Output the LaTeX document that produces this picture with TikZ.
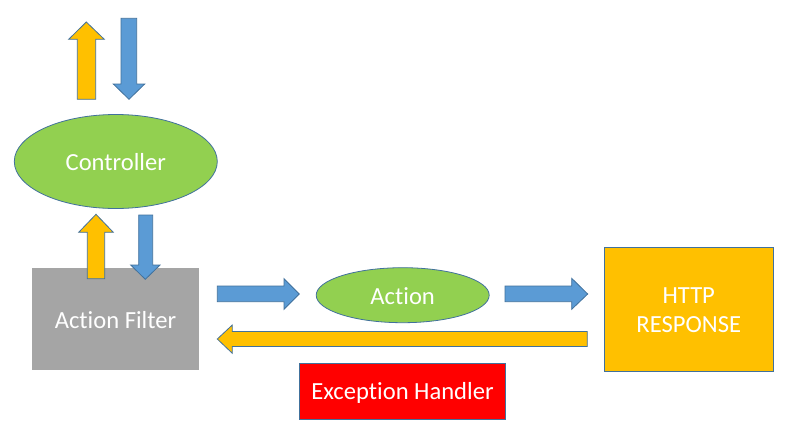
\documentclass[tikz,border=0pt]{standalone}
\usepackage{fontspec}
\setmainfont{Carlito}[Ligatures=NoCommon]
\usetikzlibrary{shapes.geometric}
\definecolor{orng}{HTML}{FFC000}
\definecolor{blu}{HTML}{5B9BD5}
\definecolor{grn}{HTML}{92D050}
\definecolor{gry}{HTML}{A5A5A5}
\definecolor{rd}{HTML}{FF0000}
\definecolor{edge}{HTML}{41719C}
\tikzset{
  lbl/.style={text=white, font=\fontsize{24.6}{29.5}\selectfont, align=center, inner sep=0pt},
  oval/.style={ellipse, fill=grn, draw=edge, line width=0.8pt, inner sep=0pt},
  box/.style={rectangle, inner sep=0pt},
  barrow/.style={draw=edge, line width=0.8pt, line join=miter},
}
\begin{document}
\begin{tikzpicture}[x=1pt,y=-1pt]
\useasboundingbox[fill=white] (0,0) rectangle (801,437);
% nodes
\node[oval, minimum width=203pt, minimum height=94pt] (ctrl) at (115.8,161.5) {};
\node[lbl] at ([yshift=-1pt]ctrl.center) {Controller};
\node[box, fill=gry, minimum width=167pt, minimum height=101.5pt] (filter) at (115.5,318.8) {};
\node[lbl] at (115.5,320.3) {Action Filter};
\node[oval, minimum width=173pt, minimum height=55pt] (action) at (402.7,295.2) {};
\node[lbl] at ([yshift=-1pt]action.center) {Action};
\node[box, fill=orng, draw=edge, line width=0.8pt, minimum width=169pt, minimum height=123.7pt] (http) at (688.8,309.2) {};
\node[lbl] at ([yshift=-1pt]http.center) {HTTP\\RESPONSE};
\node[box, fill=rd, draw=edge, line width=0.8pt, minimum width=206.4pt, minimum height=56pt] (exc) at (402.5,391.3) {};
\node[lbl] at ([yshift=-1.5pt]exc.center) {Exception Handler};
% block arrows
\draw[barrow, fill=orng] (86.3,22) -- (104.3,39.3) -- (95.7,39.3) -- (95.7,99.3) -- (77.3,99.3) -- (77.3,39.3) -- (68.7,39.3) -- cycle;
\draw[barrow, fill=blu] (121,18.3) -- (136.7,18.3) -- (136.7,84) -- (144.7,84) -- (129,99.3) -- (113.3,84) -- (121,84) -- cycle;
\draw[barrow, fill=orng] (96,214.3) -- (113.3,232.3) -- (104.7,232.3) -- (104.7,278.7) -- (87.3,278.7) -- (87.3,232.3) -- (78.7,232.3) -- cycle;
\draw[barrow, fill=blu] (138.7,215) -- (152.7,215) -- (152.7,265) -- (160,265) -- (145.3,279.3) -- (130.7,265) -- (138.7,265) -- cycle;
\draw[barrow, fill=blu] (217.3,286) -- (284,286) -- (284,278.7) -- (299.3,294) -- (284,309.3) -- (284,301.7) -- (217.3,301.7) -- cycle;
\draw[barrow, fill=blu] (505,286) -- (571.7,286) -- (571.7,278.3) -- (587.7,294) -- (571.7,309.3) -- (571.7,301.7) -- (505,301.7) -- cycle;
\draw[barrow, fill=orng] (217.3,339) -- (232.3,325) -- (232.3,331.5) -- (587.3,331.5) -- (587.3,346.5) -- (232.3,346.5) -- (232.3,353.3) -- cycle;
\end{tikzpicture}
\end{document}
